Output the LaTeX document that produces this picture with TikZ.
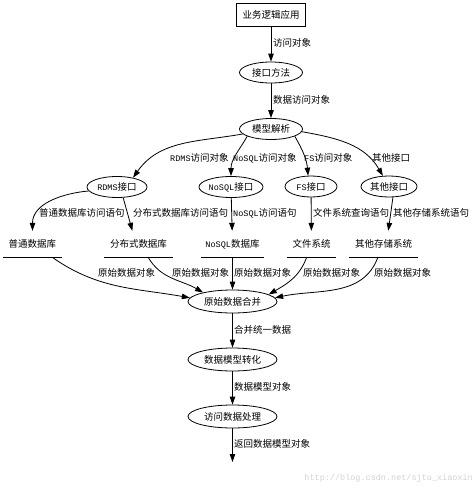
\documentclass[tikz,border=0pt]{standalone}
\usepackage{fontspec}
\setmainfont{Noto Sans CJK SC}
\newfontfamily\markfont{Liberation Mono}
\newcommand{\latinpart}[1]{{\markfont\fontsize{8.5}{11}\selectfont #1}}
\usepackage{tikz}
\usetikzlibrary{arrows.meta}
\usetikzlibrary{shapes.geometric}

\begin{document}
\begin{tikzpicture}[x=1pt,y=1pt]
  \tikzset{
    every node/.style={font=\fontsize{9.5}{11}\selectfont},
    appbox/.style={
      draw,
      rectangle,
      minimum width=69pt,
      minimum height=23pt,
      inner sep=0pt,
      line width=0.8pt
    },
    oval/.style={
      draw,
      ellipse,
      minimum height=21pt,
      inner sep=0pt,
      line width=0.8pt
    },
    wideoval/.style={
      oval,
      minimum width=89pt,
      minimum height=23pt
    },
    store/.style={
      rectangle,
      minimum height=26pt,
      inner sep=0pt
    },
    storeline/.style={
      line width=0.8pt
    },
    edgelabel/.style={
      anchor=west,
      inner sep=0pt
    },
    flow/.style={
      draw,
      line width=0.8pt,
      -{Triangle[length=8pt, width=5.5pt]}
    }
  }

  \useasboundingbox (0,-488) rectangle (474,0);

  % Nodes
  \node[appbox] (app) at (271,-14.5) {业务逻辑应用};
  \node[oval, minimum width=63pt] (iface) at (271,-72.5) {接口方法};
  \node[oval, minimum width=63pt] (parse) at (271,-129) {模型解析};
  \node[oval, minimum width=60pt] (rdms) at (117,-187) {\latinpart{RDMS}接口};
  \node[oval, minimum width=64pt] (nosql) at (231,-187) {\latinpart{NoSQL}接口};
  \node[oval, minimum width=52pt] (fs) at (311,-186.5) {\latinpart{FS}接口};
  \node[oval, minimum width=56pt] (other) at (389,-186.5) {其他接口};

  % Data stores
  \node[store, minimum width=59pt] (db1) at (32.5,-244) {普通数据库};
  \node[store, minimum width=69pt] (db2) at (138.5,-244) {分布式数据库};
  \node[store, minimum width=63pt] (db3) at (232.5,-244) {\latinpart{NoSQL}数据库};
  \node[store, minimum width=49pt] (db4) at (311.5,-244) {文件系统};
  \node[store, minimum width=69pt] (db5) at (383.5,-244) {其他存储系统};
  \foreach \s in {db1,db2,db3,db4,db5}
    \draw[storeline] (\s.south west) -- (\s.south east);

  \node[wideoval] (merge) at (232.5,-301.5) {原始数据合并};
  \node[wideoval] (conv) at (232.5,-359.5) {数据模型转化};
  \node[wideoval] (handle) at (232.5,-416.5) {访问数据处理};
  \coordinate (result) at (232.5,-462);

  % Edges
  \draw[flow] (app) -- (iface);
  \draw[flow] (iface) -- (parse);
  \draw[flow] (parse.190) to[out=190, in=55] (rdms.30);
  \draw[flow] (parse.197) to[out=240, in=90] (nosql.north);
  \draw[flow] (parse.-17) to[out=-60, in=95] (fs.105);
  \draw[flow] (parse.-5) to[out=-10, in=120] (other.120);
  \draw[flow] (rdms.188) to[out=185, in=90] (db1.north);
  \draw[flow] (rdms.-60) -- (db2.115);
  \draw[flow] (nosql) -- (db3);
  \draw[flow] (fs) -- (db4);
  \draw[flow] (other.-70) -- (db5.70);
  \draw[flow] (db1.-34) to[out=-35, in=170] (merge.175);
  \draw[flow] (db2.-54) to[out=-60, in=150] (merge.163);
  \draw[flow] (db3) -- (merge);
  \draw[flow] (db4.250) to[out=-110, in=30] (merge.11);
  \draw[flow] (db5.247) to[out=-110, in=12] (merge.5);
  \draw[flow] (merge) -- (conv);
  \draw[flow] (conv) -- (handle);
  \draw[flow] (handle) -- (result);

  % Edge labels
  \node[edgelabel] (l1) at (273,-43) {访问对象};
  \node[edgelabel] (l2) at (273,-100) {数据访问对象};
  \node[edgelabel] (l3) at (170,-158) {\latinpart{RDMS}访问对象};
  \node[edgelabel] (l4) at (233,-158) {\latinpart{NoSQL}访问对象};
  \node[edgelabel] (l5) at (304,-158) {\latinpart{FS}访问对象};
  \node[edgelabel] (l6) at (372,-158) {其他接口};
  \node[edgelabel] (l7) at (39,-213) {普通数据库访问语句};
  \node[edgelabel] (l8) at (133,-213) {分布式数据库访问语句};
  \node[edgelabel] (l9) at (233,-213) {\latinpart{NoSQL}访问语句};
  \node[edgelabel] (l10) at (313,-213) {文件系统查询语句};
  \node[edgelabel] (l11) at (393,-213) {其他存储系统语句};
  \node[edgelabel] (l12) at (98,-273) {原始数据对象};
  \node[edgelabel] (l13) at (172,-273) {原始数据对象};
  \node[edgelabel] (l14) at (234,-273) {原始数据对象};
  \node[edgelabel] (l15) at (303,-273) {原始数据对象};
  \node[edgelabel] (l16) at (374,-273) {原始数据对象};
  \node[edgelabel] (l17) at (234,-330) {合并统一数据};
  \node[edgelabel] (l18) at (234,-387) {数据模型对象};
  \node[edgelabel] (l19) at (234,-444) {返回数据模型对象};

  % Watermark
  \node[anchor=east, inner sep=0pt, text=gray!35, font=\markfont\fontsize{8.5}{10}\selectfont] (mark) at (473,-478) {http://blog.csdn.net/sjtu\_xiaoxin};
\end{tikzpicture}
\end{document}
